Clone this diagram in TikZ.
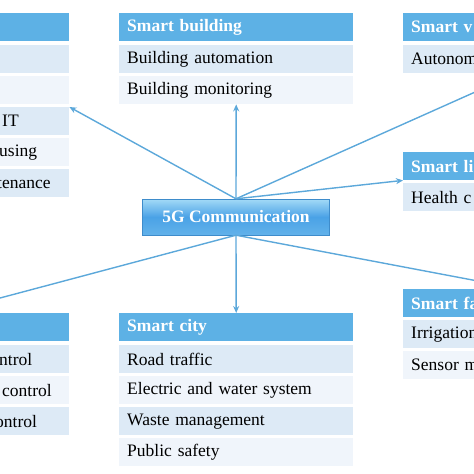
\documentclass[tikz,border=0pt]{standalone}
\usepackage{fontspec}
\setmainfont{Liberation Serif}
\usetikzlibrary{arrows.meta,calc}
\definecolor{cHead}{HTML}{5DB1E5}
\definecolor{cRowA}{HTML}{DDEAF6}
\definecolor{cRowB}{HTML}{F0F5FB}
\definecolor{cLink}{HTML}{5CA8DA}
\definecolor{cHubTop}{HTML}{A3DAF7}
\definecolor{cHubMid}{HTML}{4AA2E6}
\definecolor{cHubBot}{HTML}{62B2EA}
\definecolor{cHubEdge}{HTML}{3E8CCB}
\tikzset{
  cell/.style={rectangle, anchor=north west, minimum height=28pt,
               inner ysep=0pt, inner xsep=8pt, text width=#1, align=left,
               font=\fontsize{17.5}{20}\selectfont},
  head/.style={cell={#1}, fill=cHead, text=white,
               font=\fontsize{17.5}{20}\selectfont\bfseries},
  hubbox/.style={rectangle, top color=cHubTop, bottom color=cHubBot,
                 middle color=cHubMid, draw=cHubEdge, minimum width=187pt,
                 minimum height=36pt, text=white,
                 font=\fontsize{17.5}{20}\selectfont\bfseries},
  link/.style={-{Stealth[length=7pt, width=6pt]}, line width=1.4pt, cLink},
}
\begin{document}
\begin{tikzpicture}[x=1pt, y=-1pt]
  \useasboundingbox (0,0) rectangle (474,474);
  \clip (0,0) rectangle (474,474);
  % top left table (cut at the edge)
  \node[head=69pt, inner xsep=0pt] (tl) at (0,13) {};
  \foreach \t/\f [count=\i] in {/cRowA, /cRowB, \hspace*{2pt}IT/cRowA,
      \hspace*{-1pt}using/cRowB, \hspace*{-3pt}tenance/cRowA}
    \node[cell=69pt, inner xsep=0pt, fill=\f] (tl\i) at (0,{14+31*\i}) {\t};
  % smart building
  \node[head=218pt] (bld) at (119,13) {Smart building};
  \foreach \t/\f [count=\i] in {Building automation/cRowA, Building monitoring/cRowB}
    \node[cell=218pt, fill=\f] (bld\i) at (119,{14+31*\i}) {\t};
  % right column
  \node[head=110pt] (veh) at (403,13) {Smart v};
  \node[cell=110pt, fill=cRowA] (veh1) at (403,45) {Autonom};
  \node[head=110pt] (liv) at (403,152) {Smart li};
  \node[cell=110pt, fill=cRowA] (liv1) at (403,183) {Health c};
  \node[head=110pt] (frm) at (403,289) {Smart fa};
  \foreach \t/\f [count=\i] in {Irrigation/cRowA, Sensor m/cRowB}
    \node[cell=110pt, fill=\f] (frm\i) at (403,{289+31*\i}) {\t};
  % bottom left table (cut at the edge)
  \node[head=69pt, inner xsep=0pt] (bl) at (0,313) {};
  \foreach \t/\f [count=\i] in {\hspace*{-1pt}ntrol/cRowA,
      \hspace*{2pt}control/cRowB, \hspace*{-5pt}ontrol/cRowA}
    \node[cell=69pt, inner xsep=0pt, fill=\f] (bl\i) at (0,{314+31*\i}) {\t};
  % smart city
  \node[head=218pt] (cty) at (119,313) {Smart city};
  \foreach \t/\f [count=\i] in {Road traffic/cRowA, Electric and water system/cRowB,
      Waste management/cRowA, Public safety/cRowB}
    \node[cell=218pt, fill=\f] (cty\i) at (119,{314+31*\i}) {\t};
  % hub
  \node[hubbox] (hub) at (236,217) {5G Communication};
  \coordinate (toveh) at (520,72);
  \coordinate (tolft) at (-30,306);
  \coordinate (tofrm) at (520,289);
  % links
  \draw[link] (hub.north) -- (bld2.south);
  \draw[link] (hub.north) -- (tl3.north east);
  \draw[link] (hub.north) -- (toveh);
  \draw[link] (hub.north) -- (liv.south west);
  \draw[link] (hub.south) -- (cty.north);
  \draw[link] (hub.south) -- (tolft);
  \draw[link] (hub.south) -- (tofrm);
\end{tikzpicture}
\end{document}
